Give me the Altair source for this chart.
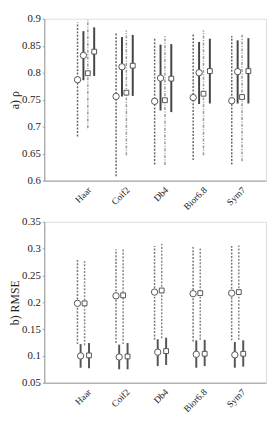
import json
import altair as alt
import pandas as pd

categories = ["Haar", "Coif2", "Db4", "Bior6.8", "Sym7"]

# Panel a) rho : four series (circle dashed, circle solid, square dashed, square solid)
rho_c1_mid = [0.787, 0.756, 0.747, 0.754, 0.748]
rho_c1_lo = [0.682, 0.608, 0.630, 0.638, 0.630]
rho_c1_hi = [0.893, 0.873, 0.865, 0.872, 0.868]
rho_c2_mid = [0.832, 0.811, 0.790, 0.800, 0.802]
rho_c2_lo = [0.786, 0.756, 0.730, 0.742, 0.743]
rho_c2_hi = [0.877, 0.866, 0.852, 0.857, 0.860]
rho_s1_mid = [0.799, 0.763, 0.749, 0.761, 0.755]
rho_s1_lo = [0.697, 0.647, 0.629, 0.647, 0.636]
rho_s1_hi = [0.900, 0.878, 0.870, 0.878, 0.872]
rho_s2_mid = [0.839, 0.813, 0.789, 0.803, 0.803]
rho_s2_lo = [0.794, 0.757, 0.727, 0.743, 0.743]
rho_s2_hi = [0.884, 0.870, 0.853, 0.863, 0.864]

# Panel b) RMSE
rmse_c1_mid = [0.198, 0.212, 0.219, 0.216, 0.217]
rmse_c1_lo = [0.122, 0.124, 0.130, 0.127, 0.129]
rmse_c1_hi = [0.279, 0.299, 0.305, 0.303, 0.305]
rmse_c2_mid = [0.100, 0.098, 0.107, 0.103, 0.102]
rmse_c2_lo = [0.078, 0.075, 0.081, 0.078, 0.078]
rmse_c2_hi = [0.122, 0.121, 0.131, 0.129, 0.126]
rmse_s1_mid = [0.198, 0.213, 0.222, 0.217, 0.219]
rmse_s1_lo = [0.120, 0.122, 0.133, 0.130, 0.130]
rmse_s1_hi = [0.277, 0.301, 0.309, 0.303, 0.306]
rmse_s2_mid = [0.101, 0.099, 0.109, 0.104, 0.104]
rmse_s2_lo = [0.077, 0.075, 0.083, 0.081, 0.080]
rmse_s2_hi = [0.124, 0.124, 0.134, 0.130, 0.129]

rho_ticks = [0.6, 0.65, 0.7, 0.75, 0.8, 0.85, 0.9]
rmse_ticks = [0.05, 0.1, 0.15, 0.2, 0.25, 0.3, 0.35]

FONT = "Liberation Serif"
X_DOMAIN = [-0.075, 5.676]
label_expr = json.dumps(categories) + "[datum.value - 1]"


def make_df(series):
    rows = []
    for name, (mid, lo, hi) in series.items():
        for i, c in enumerate(categories):
            rows.append(dict(series=name, idx=i + 1, cat=c, mid=mid[i], lo=lo[i], hi=hi[i]))
    return pd.DataFrame(rows)


def x_enc():
    return alt.X(
        "x:Q",
        scale=alt.Scale(domain=X_DOMAIN, nice=False, zero=False),
        axis=alt.Axis(values=[1, 2, 3, 4, 5], labelExpr=label_expr, title=None, grid=False,
                      labelAngle=-45, labelFont=FONT, labelFontSize=9.5, labelColor="#222",
                      ticks=False, labelPadding=4, domainColor="#999", labelOverlap=False),
    )


def y_enc(field, ydomain, yvalues, ytitle):
    return alt.Y(
        field,
        scale=alt.Scale(domain=ydomain, nice=False, zero=False),
        axis=alt.Axis(values=yvalues, format=".2~f", title=ytitle, grid=False,
                      labelFont=FONT, labelFontSize=11, labelColor="#222", labelOverlap=False,
                      titleFont=FONT, titleFontSize=12, titleFontWeight="normal", titleColor="#222",
                      tickSize=2, tickColor="#999", labelPadding=2, titlePadding=0,
                      domainColor="#999"),
    )


def panel(df, styles, ydomain, yvalues, ytitle, height):
    layers = []
    for name, st in styles.items():
        base = alt.Chart(df).transform_filter(alt.datum.series == name).transform_calculate(
            x="datum.idx + (%f)" % st["offset"])
        rule_kwargs = dict(color=st["color"], strokeWidth=st["width"])
        if st.get("dash"):
            rule_kwargs["strokeDash"] = st["dash"]
        rule = base.mark_rule(**rule_kwargs).encode(
            x=x_enc(), y=y_enc("lo:Q", ydomain, yvalues, ytitle), y2="hi:Q")
        pt = base.mark_point(shape=st["shape"], size=st["size"], filled=False, fill="white",
                             fillOpacity=1, stroke="#555", strokeWidth=1, opacity=1).encode(
            x=x_enc(), y=y_enc("mid:Q", ydomain, yvalues, ytitle))
        layers += [rule, pt]
    return alt.layer(*layers).properties(width=226, height=height)


rho_df = make_df({
    "c1": (rho_c1_mid, rho_c1_lo, rho_c1_hi),
    "c2": (rho_c2_mid, rho_c2_lo, rho_c2_hi),
    "s1": (rho_s1_mid, rho_s1_lo, rho_s1_hi),
    "s2": (rho_s2_mid, rho_s2_lo, rho_s2_hi),
})
rmse_df = make_df({
    "c1": (rmse_c1_mid, rmse_c1_lo, rmse_c1_hi),
    "c2": (rmse_c2_mid, rmse_c2_lo, rmse_c2_hi),
    "s1": (rmse_s1_mid, rmse_s1_lo, rmse_s1_hi),
    "s2": (rmse_s2_mid, rmse_s2_lo, rmse_s2_hi),
})

rho_styles = {
    "c1": dict(offset=-0.213, color="#666", width=1.5, dash=[2, 1.5], shape="circle", size=42),
    "c2": dict(offset=-0.060, color="#444", width=2, shape="circle", size=42),
    "s1": dict(offset=0.054, color="#999", width=1.5, dash=[3, 1.5, 1, 1.5], shape="square", size=24),
    "s2": dict(offset=0.219, color="#444", width=2, shape="square", size=24),
}
rmse_styles = {
    "c1": dict(offset=-0.215, color="#777", width=1.5, dash=[2, 1.5], shape="circle", size=42),
    "c2": dict(offset=-0.133, color="#555", width=2, shape="circle", size=42),
    "s1": dict(offset=-0.030, color="#888", width=1.5, dash=[2, 1.5], shape="square", size=24),
    "s2": dict(offset=0.085, color="#555", width=2, shape="square", size=24),
}

pa = panel(rho_df, rho_styles, [0.6, 0.9], rho_ticks, "a) ρ", 165)
pb = panel(rmse_df, rmse_styles, [0.05, 0.35], rmse_ticks, "b) RMSE", 164)

chart = alt.vconcat(pa, pb, spacing=3).properties(
    padding={"left": 0, "top": 0, "right": 0, "bottom": 0}
).configure_view(stroke=None).configure(background="white")

chart.save("out.html", embed_options={"renderer": "svg", "actions": False})
